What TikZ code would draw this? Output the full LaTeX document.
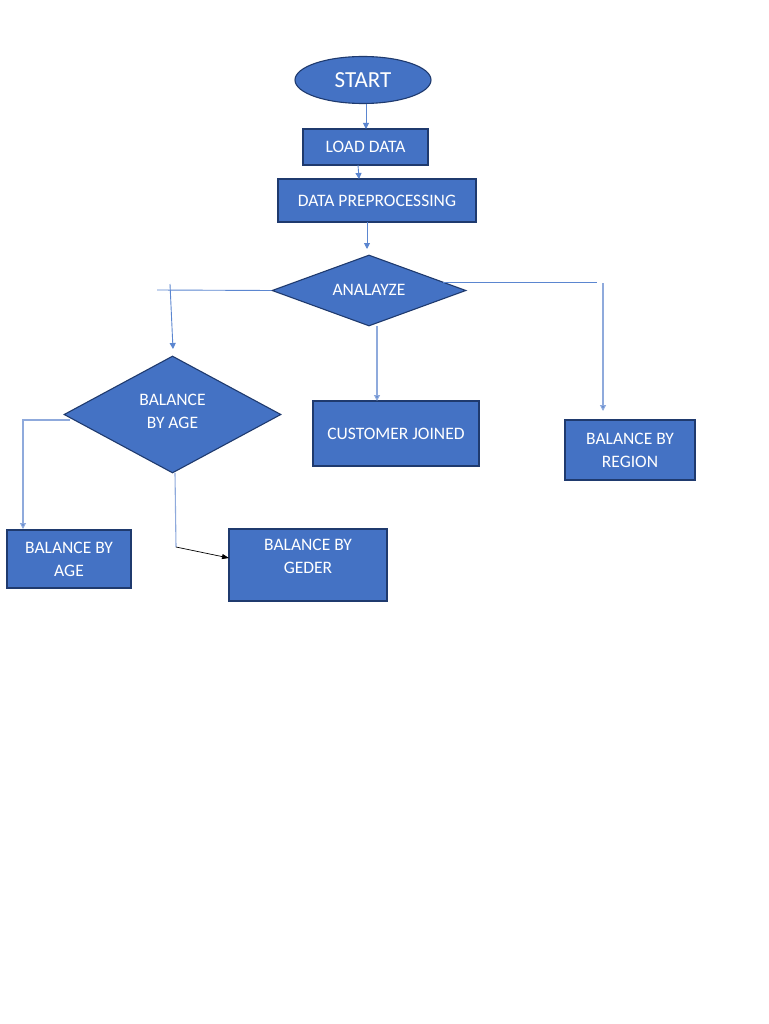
\documentclass[tikz,border=0pt]{standalone}
\usepackage{fontspec}
\setmainfont{Carlito}
\usetikzlibrary{shapes.geometric,arrows.meta}
\definecolor{boxblue}{HTML}{4472C4}
\definecolor{edgeblue}{HTML}{1F3A6E}
\definecolor{lineblue}{HTML}{5B86D0}
\definecolor{lightline}{HTML}{8FAADC}
\tikzset{
  x=1pt,y=-1pt,
  lbl/.style={text=white,align=center,font=\fontsize{17.5}{23}\selectfont},
  base/.style={fill=boxblue,draw=edgeblue,line width=1.1pt,text=white,align=center,inner sep=0pt,
    font=\fontsize{17.5}{23}\selectfont},
  rbox/.style={base,rectangle},
  conn/.style={draw=lineblue,line width=0.9pt},
  faint/.style={draw=lightline,line width=1.1pt},
  arr/.style={-{Triangle[length=6pt,width=6pt,fill=lineblue]}},
}
\begin{document}
\begin{tikzpicture}
\useasboundingbox (0,0) rectangle (768,1024);
\fill[white] (0,0) rectangle (768,1024);
% nodes
\node[base,ellipse,minimum width=136pt,minimum height=47pt,font=\fontsize{23}{26}\selectfont] (start) at (363,80) {START};
\node[rbox,minimum width=125pt,minimum height=36pt] (load) at (365.5,147) {LOAD DATA};
\node[rbox,minimum width=198pt,minimum height=43pt] (prep) at (377,200.5) {DATA PREPROCESSING};
\node[base,shape=diamond,aspect=2.73,minimum width=194pt,minimum height=71pt] (an) at (369,290.5) {};
\node[lbl] (anl) at (369,290) {ANALAYZE};
\node[base,shape=diamond,aspect=1.85,minimum width=217pt,minimum height=117pt] (age) at (172.5,414.5) {};
\node[lbl] (agel) at (172.5,411) {BALANCE\\BY AGE};
\node[rbox,minimum width=166pt,minimum height=65pt] (cust) at (396,433.5) {CUSTOMER JOINED};
\node[rbox,minimum width=130pt,minimum height=60pt] (region) at (630,450) {BALANCE BY\\REGION};
\node[rbox,minimum width=124pt,minimum height=58pt] (bage) at (69,559) {BALANCE BY\\AGE};
\node[rbox,minimum width=158pt,minimum height=72pt] (gender) at (308,565) {};
\node[lbl] (genderl) at (308,556) {BALANCE BY\\GEDER};
% helper coordinates
\coordinate (c1) at (366,104);
\coordinate (c1e) at (366,129);
\coordinate (c2) at (358,165);
\coordinate (c2e) at (359,179);
\coordinate (c3) at (367,222);
\coordinate (c3e) at (367,249);
\coordinate (l1) at (157,290);
\coordinate (l2a) at (170,284);
\coordinate (l2b) at (173,349);
\coordinate (r1a) at (443,282);
\coordinate (r1b) at (597,282);
\coordinate (r2a) at (603,283);
\coordinate (r2b) at (603,411);
\coordinate (m1) at (377,326);
\coordinate (m1e) at (377,401);
\coordinate (a1) at (70,420);
\coordinate (a2) at (23,420);
\coordinate (a3) at (23,529);
\coordinate (g1) at (175,473);
\coordinate (g2) at (176,547);
\coordinate (g3) at (229,558);
% connectors
\draw[conn,arr] (c1) -- (c1e);
\draw[conn,arr] (c2) -- (c2e);
\draw[conn,arr] (c3) -- (c3e);
\draw[conn] (an.west) -- (l1);
\draw[conn,arr] (l2a) -- (l2b);
\draw[conn] (r1a) -- (r1b);
\draw[faint,arr] (r2a) -- (r2b);
\draw[faint,arr] (m1) -- (m1e);
\draw[faint,arr] (a1) -- (a2) -- (a3);
\draw[faint] (g1) -- (g2);
\draw[black,line width=0.7pt,-{Triangle[length=7pt,width=5pt]}] (g2) -- (g3);
\end{tikzpicture}
\end{document}
